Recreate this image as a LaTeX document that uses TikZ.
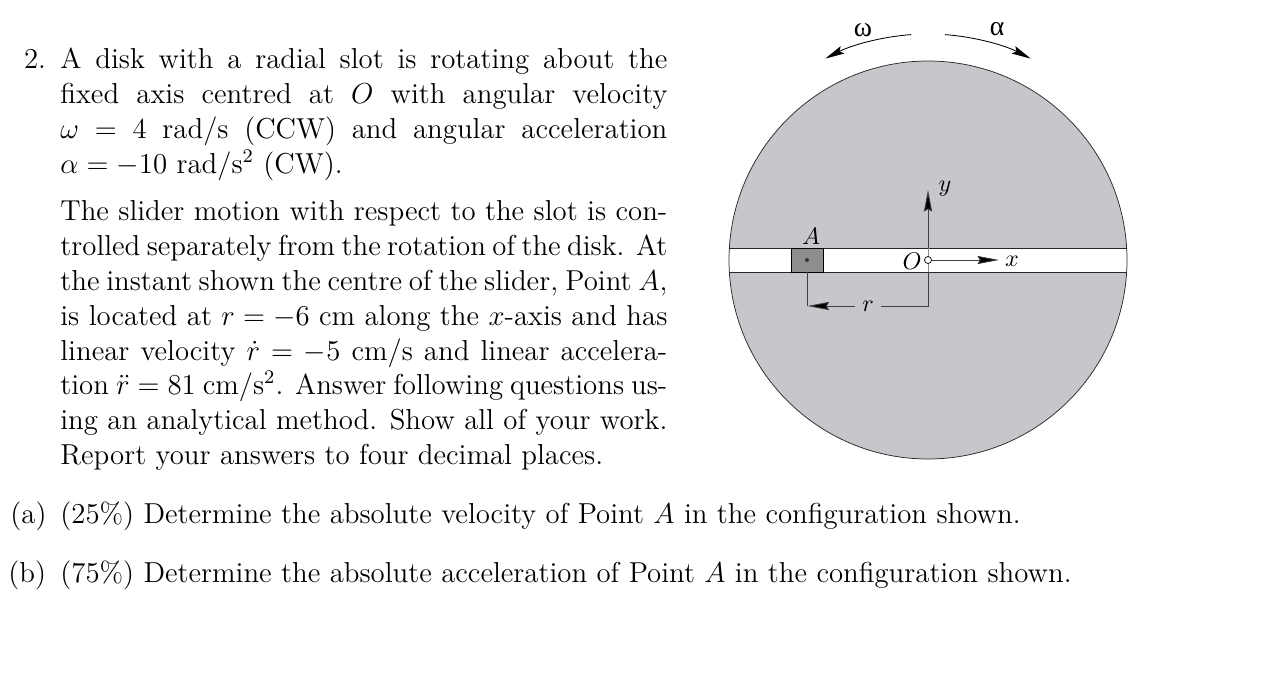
\documentclass[tikz,border=0pt,12pt]{standalone}
\usepackage[no-math]{fontspec}
\newfontfamily\lbl{Liberation Serif}
\usetikzlibrary{arrows.meta}
\newlength\pxu
\setlength\pxu{0.4162pt}
\definecolor{diskgray}{HTML}{C5C7CA}
\definecolor{slidergray}{HTML}{8E8E8E}
\definecolor{axisgray}{HTML}{404040}
\definecolor{crossgray}{HTML}{8A8C8E}
\newcommand{\jl}[1]{\makebox[607\pxu][s]{#1}}
\tikzset{
  txt/.style={anchor=base west,inner sep=0pt,outer sep=0pt,font=\fontsize{12}{14.5}\selectfont},
  lab/.style={inner sep=0pt,outer sep=0pt,font=\fontsize{10}{12}\selectfont},
  greek/.style={inner sep=0pt,outer sep=0pt,font=\fontsize{11.5}{13}\selectfont\lbl},
  thinline/.style={line width=0.3pt,draw=black!85},
  axisline/.style={line width=0.35pt,draw=axisgray},
  axtip/.style={-{Stealth[length=9pt,width=3.4pt,inset=1pt,fill=black]}},
}
\begin{document}
\begin{tikzpicture}[x=\pxu,y=-\pxu]
\useasboundingbox (0,0) rectangle (1269,691);
\fill[white] (0,0) rectangle (1269,691);
% text
\node[txt] (n2) at (24,68) {2.};
\node[txt] (l1) at (60.4,68) {\jl{A disk with a radial slot is rotating about the}};
\node[txt] (l2) at (60.4,103) {\jl{fixed axis centred at $O$ with angular velocity}};
\node[txt] (l3) at (60.4,138) {\jl{$\omega$ = 4 rad/s (CCW) and angular acceleration}};
\node[txt] (l4) at (60.4,173) {$\alpha=-10$ rad/s$^2$ (CW).};
\node[txt] (l5) at (60.4,220) {\jl{The slider motion with respect to the slot is con-}};
\node[txt] (l6) at (60.4,255) {\jl{trolled separately from the rotation of the disk. At}};
\node[txt] (l7) at (60.4,290) {\jl{the instant shown the centre of the slider, Point $A$,}};
\node[txt] (l8) at (60.4,325) {\jl{is located at $r=-6$ cm along the $x$-axis and has}};
\node[txt] (l9) at (60.4,360) {\jl{linear velocity $\dot r=-5$ cm/s and linear accelera-}};
\node[txt] (l10) at (60.4,394) {\jl{tion $\ddot r=81$ cm/s$^2$. Answer following questions us-}};
\node[txt] (l11) at (60.4,429) {\jl{ing an analytical method. Show all of your work.}};
\node[txt] (l12) at (60.4,464) {Report your answers to four decimal places.};
\node[txt] (a) at (10.4,523) {(a)};
\node[txt] (at) at (60.4,523) {(25\%) Determine the absolute velocity of Point $A$ in the configuration shown.};
\node[txt] (b) at (8.4,582) {(b)};
\node[txt] (bt) at (60.4,582) {(75\%) Determine the absolute acceleration of Point $A$ in the configuration shown.};
% disk
\coordinate (O) at (928,260);
\fill[diskgray] (O) circle[radius=199];
\fill[white] (729.3,248) rectangle (1126.7,272);
\draw[thinline] (O) circle[radius=199];
\draw[thinline] (729.3,248) -- (1126.7,248);
\draw[thinline] (729.3,272) -- (1126.7,272);
% slider
\node[draw=black,line width=0.3pt,fill=slidergray,minimum width=32\pxu,minimum height=24\pxu,inner sep=0pt,outer sep=0pt] (S) at (807,260) {};
\fill[black!80] (S.center) circle[radius=2];
% dimension r
\coordinate (Rl) at (807.5,306);
\coordinate (Rr) at (928,306);
\coordinate (Ytop) at (928,190);
\coordinate (Xend) at (999,260);
\coordinate (Yslot) at (928,248);
\coordinate (Ybot) at (928,272);
\node[lab,anchor=base,inner xsep=7\pxu] (r) at (868,311) {$r$};
\draw[axisline] (S.south -| Rl) -- (Rl);
\draw[line width=0.35pt,draw=crossgray] (Yslot) -- (Ybot);
\draw[axisline] (Ybot) -- (Rr) -- (r.east |- Rr);
\draw[axisline,axtip] (r.west |- Rr) -- (Rl);
% axes
\node[draw=black,line width=0.3pt,fill=white,circle,minimum size=7\pxu,inner sep=0pt,outer sep=0pt] (H) at (O) {};
\draw[axisline,axtip] (Yslot) -- (Ytop);
\draw[axisline,axtip] (H.east) -- (Xend);
\node[lab,anchor=base] (Ol) at (912,269) {$O$};
\node[lab,anchor=base] (xl) at (1012,266) {$x$};
\node[lab,anchor=base] (yl) at (945,191) {$y$};
\node[lab,anchor=base] (Al) at (811,244) {$A$};
% rotation arrows
\node[greek,anchor=base] (wl) at (863,36) {ω};
\node[greek,anchor=base] (al) at (997,35) {α};
\coordinate (W) at (911,34.6);
\coordinate (Aa) at (945,34.6);
\draw[line width=0.35pt,-{Stealth[length=8pt,width=3.4pt,inset=1.4pt]}] (W) arc[start angle=-94.3,end angle=-117,radius=226];
\draw[line width=0.35pt,-{Stealth[length=8pt,width=3.4pt,inset=1.4pt]}] (Aa) arc[start angle=-85.7,end angle=-63,radius=226];
\end{tikzpicture}
\end{document}
